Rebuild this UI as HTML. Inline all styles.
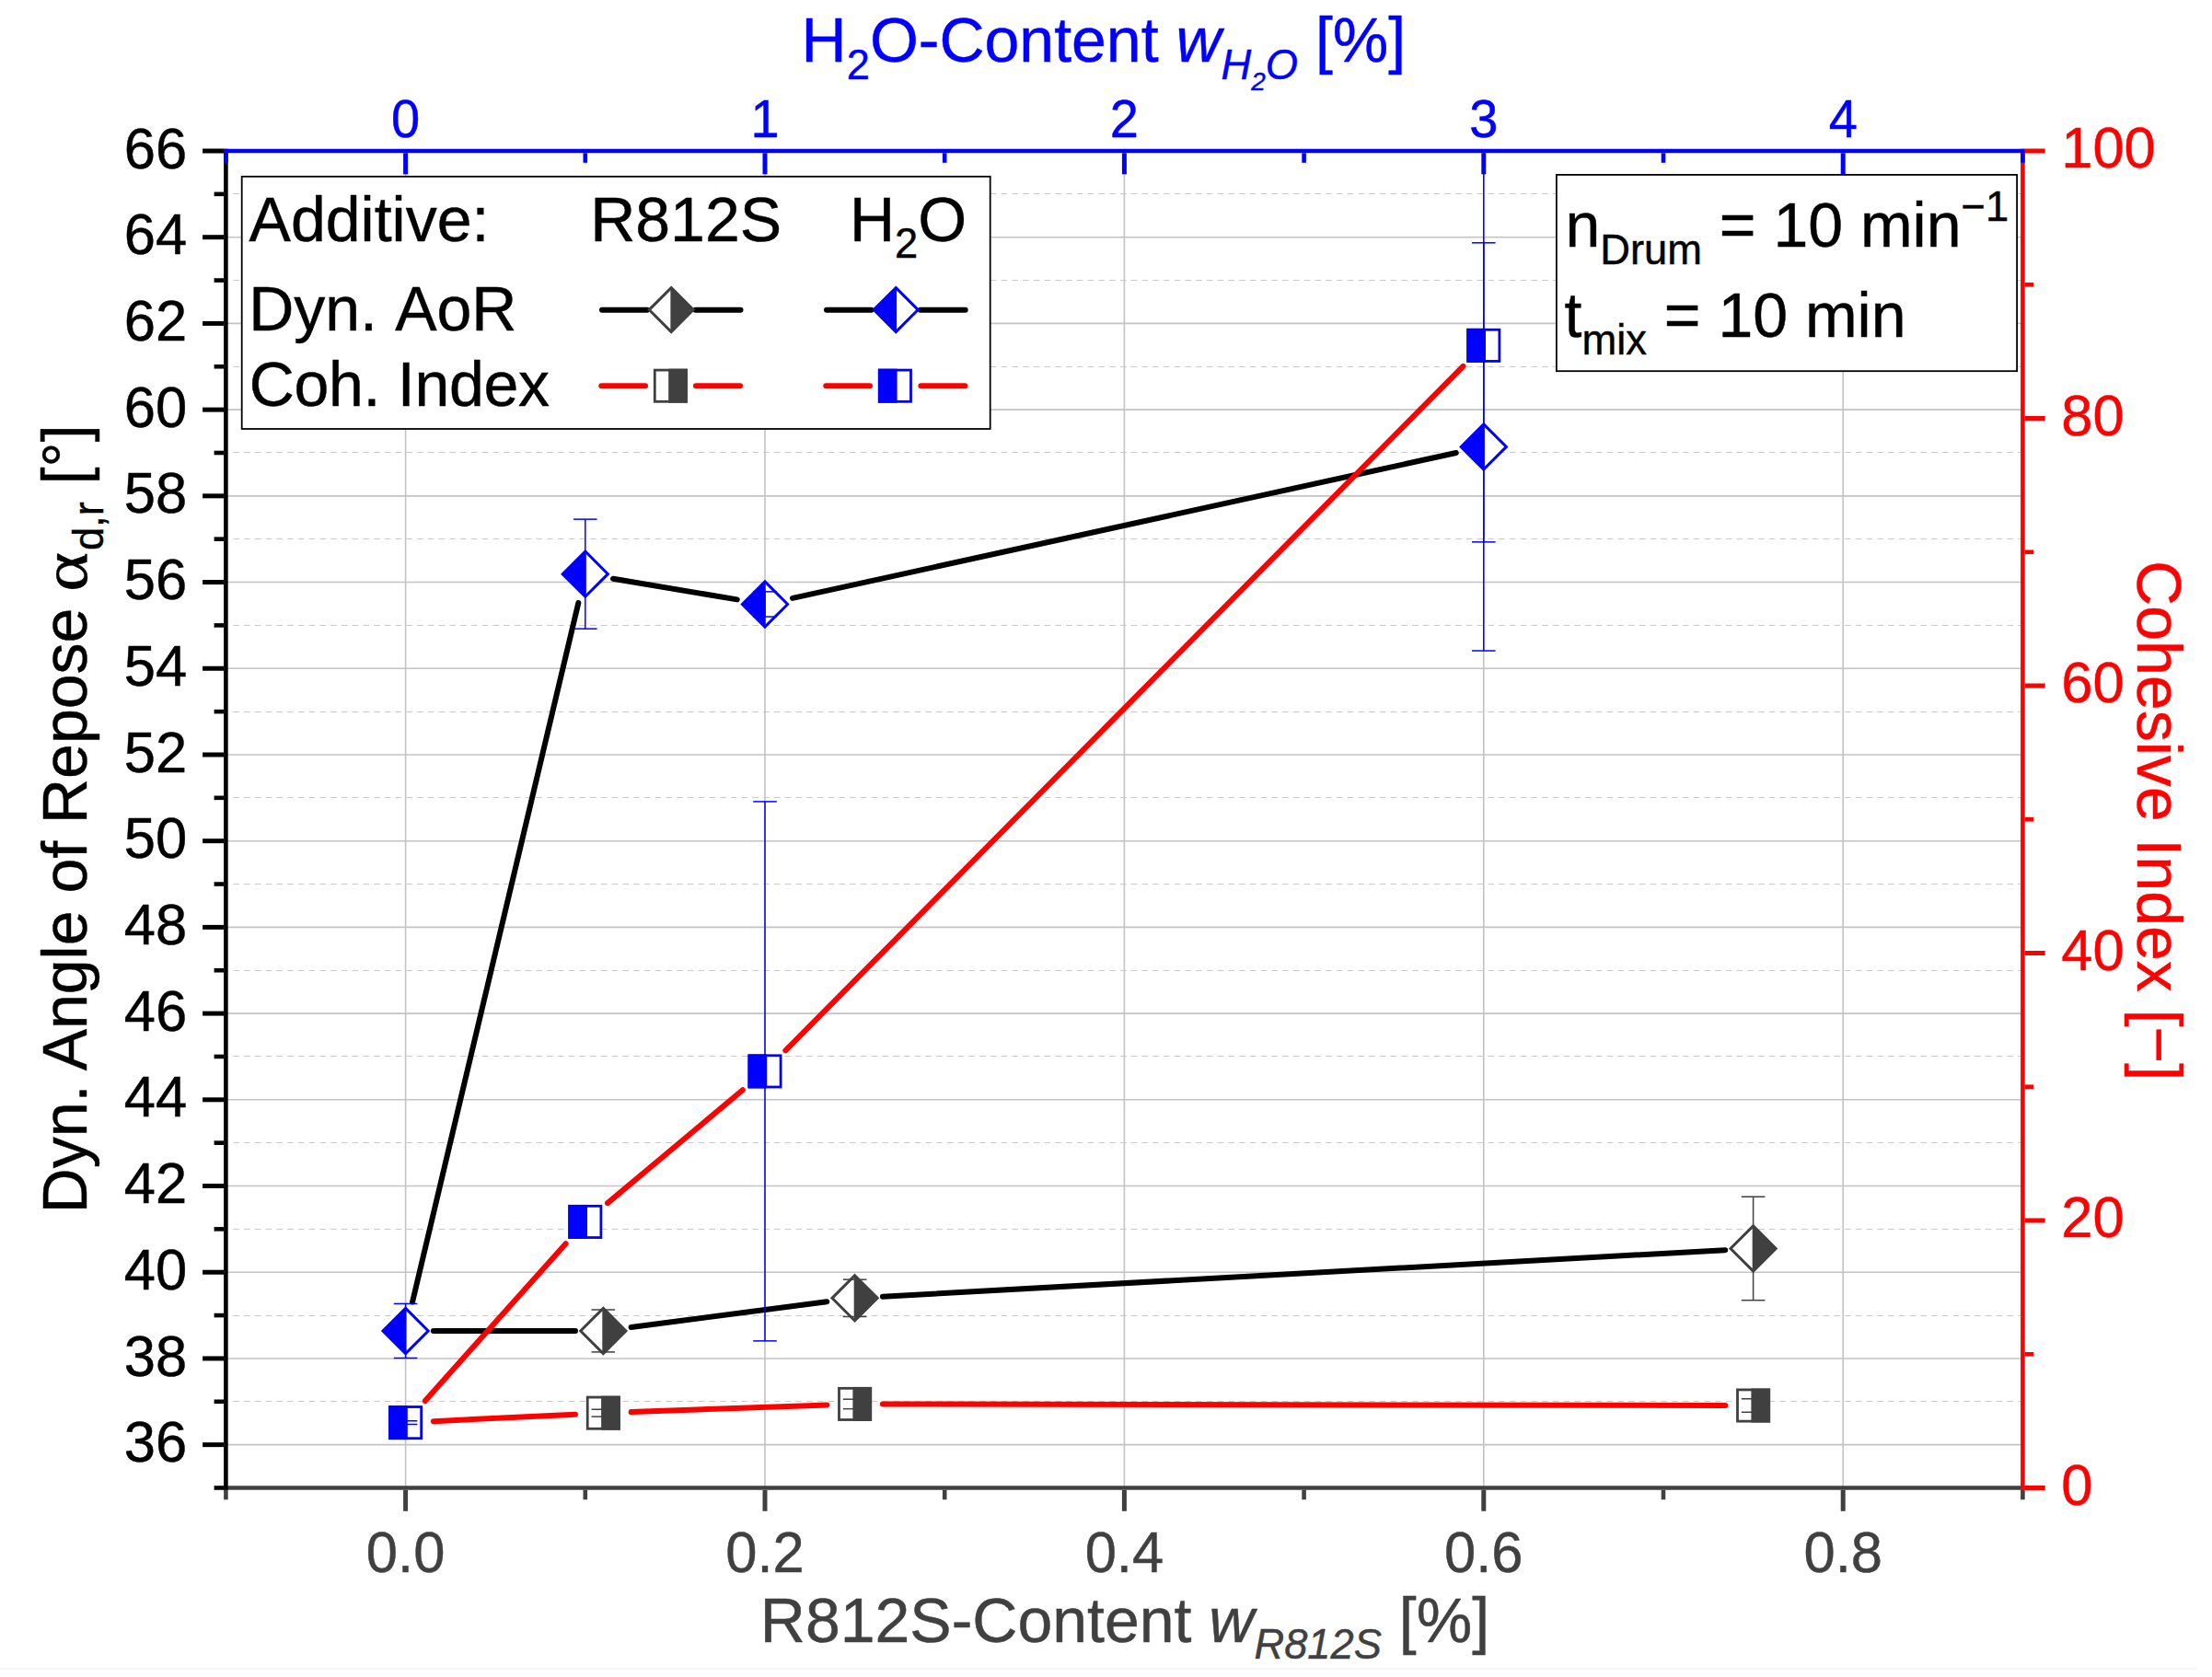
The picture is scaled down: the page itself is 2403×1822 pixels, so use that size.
<!DOCTYPE html>
<html lang="en"><head><meta charset="utf-8"><title>Dyn. Angle of Repose and Cohesive Index vs additive content</title>
<style>html,body{margin:0;padding:0;background:#fff;}body{width:2403px;height:1822px;overflow:hidden;}svg{display:block;}text{white-space:pre;stroke-width:0.45px;}</style>
</head><body>
<svg width="2403" height="1822" viewBox="0 0 2403 1822">
<rect x="0" y="0" width="2403" height="1822" fill="#ffffff"/>
<g id="grid">
<line x1="245.4" y1="1569.65" x2="2197.4" y2="1569.65" stroke="#c3c3c3" stroke-width="1.6" />
<line x1="245.4" y1="1475.94" x2="2197.4" y2="1475.94" stroke="#c3c3c3" stroke-width="1.6" />
<line x1="245.4" y1="1382.23" x2="2197.4" y2="1382.23" stroke="#c3c3c3" stroke-width="1.6" />
<line x1="245.4" y1="1288.52" x2="2197.4" y2="1288.52" stroke="#c3c3c3" stroke-width="1.6" />
<line x1="245.4" y1="1194.81" x2="2197.4" y2="1194.81" stroke="#c3c3c3" stroke-width="1.6" />
<line x1="245.4" y1="1101.1" x2="2197.4" y2="1101.1" stroke="#c3c3c3" stroke-width="1.6" />
<line x1="245.4" y1="1007.39" x2="2197.4" y2="1007.39" stroke="#c3c3c3" stroke-width="1.6" />
<line x1="245.4" y1="913.68" x2="2197.4" y2="913.68" stroke="#c3c3c3" stroke-width="1.6" />
<line x1="245.4" y1="819.97" x2="2197.4" y2="819.97" stroke="#c3c3c3" stroke-width="1.6" />
<line x1="245.4" y1="726.26" x2="2197.4" y2="726.26" stroke="#c3c3c3" stroke-width="1.6" />
<line x1="245.4" y1="632.55" x2="2197.4" y2="632.55" stroke="#c3c3c3" stroke-width="1.6" />
<line x1="245.4" y1="538.84" x2="2197.4" y2="538.84" stroke="#c3c3c3" stroke-width="1.6" />
<line x1="245.4" y1="445.13" x2="2197.4" y2="445.13" stroke="#c3c3c3" stroke-width="1.6" />
<line x1="245.4" y1="351.42" x2="2197.4" y2="351.42" stroke="#c3c3c3" stroke-width="1.6" />
<line x1="245.4" y1="257.71" x2="2197.4" y2="257.71" stroke="#c3c3c3" stroke-width="1.6" />
<line x1="253.4" y1="1522.5" x2="2197.4" y2="1522.5" stroke="#c9c9c9" stroke-width="1.0" stroke-dasharray="6.6 5.15"/>
<line x1="253.4" y1="1429.5" x2="2197.4" y2="1429.5" stroke="#c9c9c9" stroke-width="1.0" stroke-dasharray="6.6 5.15"/>
<line x1="253.4" y1="1335.5" x2="2197.4" y2="1335.5" stroke="#c9c9c9" stroke-width="1.0" stroke-dasharray="6.6 5.15"/>
<line x1="253.4" y1="1241.5" x2="2197.4" y2="1241.5" stroke="#c9c9c9" stroke-width="1.0" stroke-dasharray="6.6 5.15"/>
<line x1="253.4" y1="1147.5" x2="2197.4" y2="1147.5" stroke="#c9c9c9" stroke-width="1.0" stroke-dasharray="6.6 5.15"/>
<line x1="253.4" y1="1054.5" x2="2197.4" y2="1054.5" stroke="#c9c9c9" stroke-width="1.0" stroke-dasharray="6.6 5.15"/>
<line x1="253.4" y1="960.5" x2="2197.4" y2="960.5" stroke="#c9c9c9" stroke-width="1.0" stroke-dasharray="6.6 5.15"/>
<line x1="253.4" y1="866.5" x2="2197.4" y2="866.5" stroke="#c9c9c9" stroke-width="1.0" stroke-dasharray="6.6 5.15"/>
<line x1="253.4" y1="773.5" x2="2197.4" y2="773.5" stroke="#c9c9c9" stroke-width="1.0" stroke-dasharray="6.6 5.15"/>
<line x1="253.4" y1="679.5" x2="2197.4" y2="679.5" stroke="#c9c9c9" stroke-width="1.0" stroke-dasharray="6.6 5.15"/>
<line x1="253.4" y1="585.5" x2="2197.4" y2="585.5" stroke="#c9c9c9" stroke-width="1.0" stroke-dasharray="6.6 5.15"/>
<line x1="253.4" y1="491.5" x2="2197.4" y2="491.5" stroke="#c9c9c9" stroke-width="1.0" stroke-dasharray="6.6 5.15"/>
<line x1="253.4" y1="398.5" x2="2197.4" y2="398.5" stroke="#c9c9c9" stroke-width="1.0" stroke-dasharray="6.6 5.15"/>
<line x1="253.4" y1="304.5" x2="2197.4" y2="304.5" stroke="#c9c9c9" stroke-width="1.0" stroke-dasharray="6.6 5.15"/>
<line x1="253.4" y1="210.5" x2="2197.4" y2="210.5" stroke="#c9c9c9" stroke-width="1.0" stroke-dasharray="6.6 5.15"/>
<line x1="440.6" y1="164" x2="440.6" y2="1616.5" stroke="#c3c3c3" stroke-width="1.6" />
<line x1="831" y1="164" x2="831" y2="1616.5" stroke="#c3c3c3" stroke-width="1.6" />
<line x1="1221.4" y1="164" x2="1221.4" y2="1616.5" stroke="#c3c3c3" stroke-width="1.6" />
<line x1="1611.8" y1="164" x2="1611.8" y2="1616.5" stroke="#c3c3c3" stroke-width="1.6" />
<line x1="2002.2" y1="164" x2="2002.2" y2="1616.5" stroke="#c3c3c3" stroke-width="1.6" />
</g>
<g id="data">
<line x1="470.9" y1="1445.95" x2="625.02" y2="1445.95" stroke="#000000" stroke-width="6.0" stroke-linecap="round"/>
<line x1="685.62" y1="1442" x2="898.3" y2="1414.29" stroke="#000000" stroke-width="6.0" stroke-linecap="round"/>
<line x1="958.96" y1="1408.66" x2="1874.24" y2="1358.13" stroke="#000000" stroke-width="6.0" stroke-linecap="round"/>
<polygon points="655.32,1421.35 679.92,1445.95 655.32,1470.55 630.72,1445.95" fill="#fff"/>
<polygon points="654.52,1421.35 679.92,1445.95 654.52,1470.55" fill="#404040"/>
<polygon points="655.32,1421.35 679.92,1445.95 655.32,1470.55 630.72,1445.95" fill="none" stroke="#404040" stroke-width="3.0" stroke-linejoin="miter"/>
<line x1="655.32" y1="1422.99" x2="655.32" y2="1468.91" stroke="#404040" stroke-width="1.5" />
<line x1="642.52" y1="1422.99" x2="668.12" y2="1422.99" stroke="#404040" stroke-width="1.5" />
<line x1="642.52" y1="1468.91" x2="668.12" y2="1468.91" stroke="#404040" stroke-width="1.5" />
<polygon points="928.6,1385.74 953.2,1410.34 928.6,1434.94 904,1410.34" fill="#fff"/>
<polygon points="927.8,1385.74 953.2,1410.34 927.8,1434.94" fill="#404040"/>
<polygon points="928.6,1385.74 953.2,1410.34 928.6,1434.94 904,1410.34" fill="none" stroke="#404040" stroke-width="3.0" stroke-linejoin="miter"/>
<line x1="928.6" y1="1390.19" x2="928.6" y2="1430.49" stroke="#404040" stroke-width="1.5" />
<line x1="915.8" y1="1390.19" x2="941.4" y2="1390.19" stroke="#404040" stroke-width="1.5" />
<line x1="915.8" y1="1430.49" x2="941.4" y2="1430.49" stroke="#404040" stroke-width="1.5" />
<polygon points="1904.6,1331.86 1929.2,1356.46 1904.6,1381.06 1880,1356.46" fill="#fff"/>
<polygon points="1903.8,1331.86 1929.2,1356.46 1903.8,1381.06" fill="#404040"/>
<polygon points="1904.6,1331.86 1929.2,1356.46 1904.6,1381.06 1880,1356.46" fill="none" stroke="#404040" stroke-width="3.0" stroke-linejoin="miter"/>
<line x1="1904.6" y1="1300.23" x2="1904.6" y2="1412.68" stroke="#404040" stroke-width="1.5" />
<line x1="1891.8" y1="1300.23" x2="1917.4" y2="1300.23" stroke="#404040" stroke-width="1.5" />
<line x1="1891.8" y1="1412.68" x2="1917.4" y2="1412.68" stroke="#404040" stroke-width="1.5" />
<line x1="470.96" y1="1544.14" x2="624.96" y2="1536.64" stroke="#ff0000" stroke-width="6.0" stroke-linecap="round"/>
<line x1="685.67" y1="1534.08" x2="898.25" y2="1526.51" stroke="#ff0000" stroke-width="6.0" stroke-linecap="round"/>
<line x1="958.9" y1="1525.48" x2="1874.3" y2="1526.98" stroke="#ff0000" stroke-width="6.0" stroke-linecap="round"/>
<rect x="638.22" y="1518.06" width="34.2" height="34.2" fill="#fff" stroke="#404040" stroke-width="2.8"/>
<rect x="654.52" y="1518.06" width="17.9" height="34.2" fill="#404040" stroke="#404040" stroke-width="2.8"/>
<line x1="655.32" y1="1531.24" x2="655.32" y2="1539.08" stroke="#404040" stroke-width="1.5" />
<line x1="642.52" y1="1531.24" x2="668.12" y2="1531.24" stroke="#404040" stroke-width="1.5" />
<line x1="642.52" y1="1539.08" x2="668.12" y2="1539.08" stroke="#404040" stroke-width="1.5" />
<rect x="911.5" y="1508.33" width="34.2" height="34.2" fill="#fff" stroke="#404040" stroke-width="2.8"/>
<rect x="927.8" y="1508.33" width="17.9" height="34.2" fill="#404040" stroke="#404040" stroke-width="2.8"/>
<line x1="928.6" y1="1520.2" x2="928.6" y2="1530.66" stroke="#404040" stroke-width="1.5" />
<line x1="915.8" y1="1520.2" x2="941.4" y2="1520.2" stroke="#404040" stroke-width="1.5" />
<line x1="915.8" y1="1530.66" x2="941.4" y2="1530.66" stroke="#404040" stroke-width="1.5" />
<rect x="1887.5" y="1509.93" width="34.2" height="34.2" fill="#fff" stroke="#404040" stroke-width="2.8"/>
<rect x="1903.8" y="1509.93" width="17.9" height="34.2" fill="#404040" stroke="#404040" stroke-width="2.8"/>
<line x1="1904.6" y1="1519.76" x2="1904.6" y2="1534.29" stroke="#404040" stroke-width="1.5" />
<line x1="1891.8" y1="1519.76" x2="1917.4" y2="1519.76" stroke="#404040" stroke-width="1.5" />
<line x1="1891.8" y1="1534.29" x2="1917.4" y2="1534.29" stroke="#404040" stroke-width="1.5" />
<line x1="448.05" y1="1414.57" x2="628.35" y2="655.02" stroke="#000000" stroke-width="6.0" stroke-linecap="round"/>
<line x1="666.01" y1="628.72" x2="800.79" y2="651.37" stroke="#000000" stroke-width="6.0" stroke-linecap="round"/>
<line x1="861.02" y1="649.87" x2="1581.78" y2="492" stroke="#000000" stroke-width="6.0" stroke-linecap="round"/>
<polygon points="440.6,1421.35 465.2,1445.95 440.6,1470.55 416,1445.95" fill="#fff"/>
<polygon points="441.4,1421.35 416,1445.95 441.4,1470.55" fill="#0000ff"/>
<polygon points="440.6,1421.35 465.2,1445.95 440.6,1470.55 416,1445.95" fill="none" stroke="#0000ff" stroke-width="3.0" stroke-linejoin="miter"/>
<line x1="440.6" y1="1416.43" x2="440.6" y2="1475.47" stroke="#0000ff" stroke-width="1.5" />
<line x1="427.8" y1="1416.43" x2="453.4" y2="1416.43" stroke="#0000ff" stroke-width="1.5" />
<line x1="427.8" y1="1475.47" x2="453.4" y2="1475.47" stroke="#0000ff" stroke-width="1.5" />
<polygon points="635.8,599.05 660.4,623.65 635.8,648.25 611.2,623.65" fill="#fff"/>
<polygon points="636.6,599.05 611.2,623.65 636.6,648.25" fill="#0000ff"/>
<polygon points="635.8,599.05 660.4,623.65 635.8,648.25 611.2,623.65" fill="none" stroke="#0000ff" stroke-width="3.0" stroke-linejoin="miter"/>
<line x1="635.8" y1="564.14" x2="635.8" y2="683.15" stroke="#0000ff" stroke-width="1.5" />
<line x1="623" y1="564.14" x2="648.6" y2="564.14" stroke="#0000ff" stroke-width="1.5" />
<line x1="623" y1="683.15" x2="648.6" y2="683.15" stroke="#0000ff" stroke-width="1.5" />
<polygon points="831,631.84 855.6,656.44 831,681.04 806.4,656.44" fill="#fff"/>
<polygon points="831.8,631.84 806.4,656.44 831.8,681.04" fill="#0000ff"/>
<polygon points="831,631.84 855.6,656.44 831,681.04 806.4,656.44" fill="none" stroke="#0000ff" stroke-width="3.0" stroke-linejoin="miter"/>
<line x1="831" y1="642.86" x2="831" y2="670.03" stroke="#0000ff" stroke-width="1.5" />
<line x1="818.2" y1="642.86" x2="843.8" y2="642.86" stroke="#0000ff" stroke-width="1.5" />
<line x1="818.2" y1="670.03" x2="843.8" y2="670.03" stroke="#0000ff" stroke-width="1.5" />
<polygon points="1611.8,460.82 1636.4,485.42 1611.8,510.02 1587.2,485.42" fill="#fff"/>
<polygon points="1612.6,460.82 1587.2,485.42 1612.6,510.02" fill="#0000ff"/>
<polygon points="1611.8,460.82 1636.4,485.42 1611.8,510.02 1587.2,485.42" fill="none" stroke="#0000ff" stroke-width="3.0" stroke-linejoin="miter"/>
<line x1="1611.8" y1="263.8" x2="1611.8" y2="707.05" stroke="#0000ff" stroke-width="1.5" />
<line x1="1599" y1="263.8" x2="1624.6" y2="263.8" stroke="#0000ff" stroke-width="1.5" />
<line x1="1599" y1="707.05" x2="1624.6" y2="707.05" stroke="#0000ff" stroke-width="1.5" />
<line x1="461.8" y1="1521.93" x2="614.6" y2="1351.14" stroke="#ff0000" stroke-width="6.0" stroke-linecap="round"/>
<line x1="660.01" y1="1307.17" x2="806.79" y2="1184.19" stroke="#ff0000" stroke-width="6.0" stroke-linecap="round"/>
<line x1="853.32" y1="1141.36" x2="1589.48" y2="397.88" stroke="#ff0000" stroke-width="6.0" stroke-linecap="round"/>
<line x1="440.6" y1="1543.73" x2="440.6" y2="1547.51" stroke="#0000ff" stroke-width="1.5" />
<line x1="427.8" y1="1543.73" x2="453.4" y2="1543.73" stroke="#0000ff" stroke-width="1.5" />
<line x1="427.8" y1="1547.51" x2="453.4" y2="1547.51" stroke="#0000ff" stroke-width="1.5" />
<line x1="831" y1="870.93" x2="831" y2="1456.87" stroke="#0000ff" stroke-width="1.5" />
<line x1="818.2" y1="870.93" x2="843.8" y2="870.93" stroke="#0000ff" stroke-width="1.5" />
<line x1="818.2" y1="1456.87" x2="843.8" y2="1456.87" stroke="#0000ff" stroke-width="1.5" />
<line x1="1611.8" y1="164" x2="1611.8" y2="588.86" stroke="#0000ff" stroke-width="1.5" />
<line x1="1599" y1="588.86" x2="1624.6" y2="588.86" stroke="#0000ff" stroke-width="1.5" />
<rect x="423.5" y="1528.52" width="34.2" height="34.2" fill="#fff" stroke="#0000ff" stroke-width="2.8"/>
<rect x="423.5" y="1528.52" width="17.9" height="34.2" fill="#0000ff" stroke="#0000ff" stroke-width="2.8"/>
<line x1="440.6" y1="1543.73" x2="440.6" y2="1547.51" stroke="#0000ff" stroke-width="1.5" />
<line x1="427.8" y1="1543.73" x2="453.4" y2="1543.73" stroke="#0000ff" stroke-width="1.5" />
<line x1="427.8" y1="1547.51" x2="453.4" y2="1547.51" stroke="#0000ff" stroke-width="1.5" />
<rect x="618.7" y="1310.35" width="34.2" height="34.2" fill="#fff" stroke="#0000ff" stroke-width="2.8"/>
<rect x="618.7" y="1310.35" width="17.9" height="34.2" fill="#0000ff" stroke="#0000ff" stroke-width="2.8"/>
<rect x="813.9" y="1146.8" width="34.2" height="34.2" fill="#fff" stroke="#0000ff" stroke-width="2.8"/>
<rect x="813.9" y="1146.8" width="17.9" height="34.2" fill="#0000ff" stroke="#0000ff" stroke-width="2.8"/>
<rect x="1594.7" y="358.24" width="34.2" height="34.2" fill="#fff" stroke="#0000ff" stroke-width="2.8"/>
<rect x="1594.7" y="358.24" width="17.9" height="34.2" fill="#0000ff" stroke="#0000ff" stroke-width="2.8"/>
</g>
<g id="legend">
<rect x="262.7" y="191.8" width="813" height="274.2" fill="#fff" stroke="#000" stroke-width="1.8"/>
<rect x="1690.9" y="189.9" width="500.2" height="213.3" fill="#fff" stroke="#000" stroke-width="1.8"/>
<text transform="translate(270.6,262.4) scale(1,1.02)" font-family="Liberation Sans, sans-serif" font-size="68" fill="#000" stroke="#000" text-anchor="start" >Additive:</text>
<text transform="translate(641.2,262.4) scale(1,1.02)" font-family="Liberation Sans, sans-serif" font-size="68" fill="#000" stroke="#000" text-anchor="start" >R812S</text>
<text transform="translate(922.9,262.4) scale(1,1.02)" font-family="Liberation Sans, sans-serif" font-size="68" fill="#000" stroke="#000" text-anchor="start" >H<tspan font-size="45.3" dy="17.5">2</tspan><tspan dy="-17.5">O</tspan></text>
<text transform="translate(270.2,359.2) scale(1,1.02)" font-family="Liberation Sans, sans-serif" font-size="68" fill="#000" stroke="#000" text-anchor="start" word-spacing="4">Dyn. AoR</text>
<text transform="translate(270.8,440.8) scale(1,1.02)" font-family="Liberation Sans, sans-serif" font-size="68" fill="#000" stroke="#000" text-anchor="start" letter-spacing="-0.3">Coh. Index</text>
<line x1="654" y1="336.7" x2="703" y2="336.7" stroke="#000000" stroke-width="6.0" stroke-linecap="round"/>
<line x1="755.5" y1="336.7" x2="804.5" y2="336.7" stroke="#000000" stroke-width="6.0" stroke-linecap="round"/>
<polygon points="729.2,312.6 753.2,336.6 729.2,360.6 705.2,336.6" fill="#fff"/>
<polygon points="728.4,312.6 753.2,336.6 728.4,360.6" fill="#404040"/>
<polygon points="729.2,312.6 753.2,336.6 729.2,360.6 705.2,336.6" fill="none" stroke="#404040" stroke-width="3.0" stroke-linejoin="miter"/>
<line x1="898" y1="336.7" x2="946.5" y2="336.7" stroke="#000000" stroke-width="6.0" stroke-linecap="round"/>
<line x1="999.8" y1="336.7" x2="1048.7" y2="336.7" stroke="#000000" stroke-width="6.0" stroke-linecap="round"/>
<polygon points="973.3,312.6 997.3,336.6 973.3,360.6 949.3,336.6" fill="#fff"/>
<polygon points="974.1,312.6 949.3,336.6 974.1,360.6" fill="#0000ff"/>
<polygon points="973.3,312.6 997.3,336.6 973.3,360.6 949.3,336.6" fill="none" stroke="#0000ff" stroke-width="3.0" stroke-linejoin="miter"/>
<line x1="653.3" y1="419.3" x2="701" y2="419.3" stroke="#ff0000" stroke-width="6.0" stroke-linecap="round"/>
<line x1="756" y1="419.3" x2="804" y2="419.3" stroke="#ff0000" stroke-width="6.0" stroke-linecap="round"/>
<rect x="711.3" y="402.1" width="34.2" height="34.2" fill="#fff" stroke="#404040" stroke-width="2.8"/>
<rect x="727.6" y="402.1" width="17.9" height="34.2" fill="#404040" stroke="#404040" stroke-width="2.8"/>
<line x1="897.3" y1="419.3" x2="945" y2="419.3" stroke="#ff0000" stroke-width="6.0" stroke-linecap="round"/>
<line x1="1000.4" y1="419.3" x2="1048.3" y2="419.3" stroke="#ff0000" stroke-width="6.0" stroke-linecap="round"/>
<rect x="955.3" y="402.1" width="34.2" height="34.2" fill="#fff" stroke="#0000ff" stroke-width="2.8"/>
<rect x="955.3" y="402.1" width="17.9" height="34.2" fill="#0000ff" stroke="#0000ff" stroke-width="2.8"/>
<text transform="translate(1700.4,268.3) scale(1,1.02)" font-family="Liberation Sans, sans-serif" font-size="68" fill="#000" stroke="#000" text-anchor="start" >n<tspan font-size="45.3" dy="18">Drum</tspan><tspan dy="-18"> = 10 min</tspan><tspan font-size="45.3" dy="-27.8">−1</tspan></text>
<text transform="translate(1699.6,366.3) scale(1,1.02)" font-family="Liberation Sans, sans-serif" font-size="68" fill="#000" stroke="#000" text-anchor="start" >t<tspan font-size="45.3" dy="18.2">mix</tspan><tspan dy="-18.2"> = 10 min</tspan></text>
</g>
<g id="axes">
<line x1="243.1" y1="1616.5" x2="2199.7" y2="1616.5" stroke="#404040" stroke-width="4.6" />
<line x1="440.6" y1="1618.8" x2="440.6" y2="1641.8" stroke="#404040" stroke-width="5.0" />
<line x1="831" y1="1618.8" x2="831" y2="1641.8" stroke="#404040" stroke-width="5.0" />
<line x1="1221.4" y1="1618.8" x2="1221.4" y2="1641.8" stroke="#404040" stroke-width="5.0" />
<line x1="1611.8" y1="1618.8" x2="1611.8" y2="1641.8" stroke="#404040" stroke-width="5.0" />
<line x1="2002.2" y1="1618.8" x2="2002.2" y2="1641.8" stroke="#404040" stroke-width="5.0" />
<line x1="245.4" y1="1618.8" x2="245.4" y2="1629.3" stroke="#404040" stroke-width="4.6" />
<line x1="635.8" y1="1618.8" x2="635.8" y2="1629.3" stroke="#404040" stroke-width="4.6" />
<line x1="1026.2" y1="1618.8" x2="1026.2" y2="1629.3" stroke="#404040" stroke-width="4.6" />
<line x1="1416.6" y1="1618.8" x2="1416.6" y2="1629.3" stroke="#404040" stroke-width="4.6" />
<line x1="1807" y1="1618.8" x2="1807" y2="1629.3" stroke="#404040" stroke-width="4.6" />
<line x1="2197.4" y1="1618.8" x2="2197.4" y2="1629.3" stroke="#404040" stroke-width="4.6" />
<line x1="245.4" y1="161.7" x2="245.4" y2="1618.8" stroke="#000000" stroke-width="4.6" />
<line x1="220.1" y1="1569.65" x2="243.1" y2="1569.65" stroke="#000000" stroke-width="5.0" />
<line x1="220.1" y1="1475.94" x2="243.1" y2="1475.94" stroke="#000000" stroke-width="5.0" />
<line x1="220.1" y1="1382.23" x2="243.1" y2="1382.23" stroke="#000000" stroke-width="5.0" />
<line x1="220.1" y1="1288.52" x2="243.1" y2="1288.52" stroke="#000000" stroke-width="5.0" />
<line x1="220.1" y1="1194.81" x2="243.1" y2="1194.81" stroke="#000000" stroke-width="5.0" />
<line x1="220.1" y1="1101.1" x2="243.1" y2="1101.1" stroke="#000000" stroke-width="5.0" />
<line x1="220.1" y1="1007.39" x2="243.1" y2="1007.39" stroke="#000000" stroke-width="5.0" />
<line x1="220.1" y1="913.68" x2="243.1" y2="913.68" stroke="#000000" stroke-width="5.0" />
<line x1="220.1" y1="819.97" x2="243.1" y2="819.97" stroke="#000000" stroke-width="5.0" />
<line x1="220.1" y1="726.26" x2="243.1" y2="726.26" stroke="#000000" stroke-width="5.0" />
<line x1="220.1" y1="632.55" x2="243.1" y2="632.55" stroke="#000000" stroke-width="5.0" />
<line x1="220.1" y1="538.84" x2="243.1" y2="538.84" stroke="#000000" stroke-width="5.0" />
<line x1="220.1" y1="445.13" x2="243.1" y2="445.13" stroke="#000000" stroke-width="5.0" />
<line x1="220.1" y1="351.42" x2="243.1" y2="351.42" stroke="#000000" stroke-width="5.0" />
<line x1="220.1" y1="257.71" x2="243.1" y2="257.71" stroke="#000000" stroke-width="5.0" />
<line x1="220.1" y1="164" x2="243.1" y2="164" stroke="#000000" stroke-width="5.0" />
<line x1="232.6" y1="1616.5" x2="243.1" y2="1616.5" stroke="#000000" stroke-width="4.6" />
<line x1="232.6" y1="1522.79" x2="243.1" y2="1522.79" stroke="#000000" stroke-width="4.6" />
<line x1="232.6" y1="1429.08" x2="243.1" y2="1429.08" stroke="#000000" stroke-width="4.6" />
<line x1="232.6" y1="1335.37" x2="243.1" y2="1335.37" stroke="#000000" stroke-width="4.6" />
<line x1="232.6" y1="1241.66" x2="243.1" y2="1241.66" stroke="#000000" stroke-width="4.6" />
<line x1="232.6" y1="1147.95" x2="243.1" y2="1147.95" stroke="#000000" stroke-width="4.6" />
<line x1="232.6" y1="1054.24" x2="243.1" y2="1054.24" stroke="#000000" stroke-width="4.6" />
<line x1="232.6" y1="960.53" x2="243.1" y2="960.53" stroke="#000000" stroke-width="4.6" />
<line x1="232.6" y1="866.82" x2="243.1" y2="866.82" stroke="#000000" stroke-width="4.6" />
<line x1="232.6" y1="773.11" x2="243.1" y2="773.11" stroke="#000000" stroke-width="4.6" />
<line x1="232.6" y1="679.4" x2="243.1" y2="679.4" stroke="#000000" stroke-width="4.6" />
<line x1="232.6" y1="585.69" x2="243.1" y2="585.69" stroke="#000000" stroke-width="4.6" />
<line x1="232.6" y1="491.98" x2="243.1" y2="491.98" stroke="#000000" stroke-width="4.6" />
<line x1="232.6" y1="398.27" x2="243.1" y2="398.27" stroke="#000000" stroke-width="4.6" />
<line x1="232.6" y1="304.56" x2="243.1" y2="304.56" stroke="#000000" stroke-width="4.6" />
<line x1="232.6" y1="210.85" x2="243.1" y2="210.85" stroke="#000000" stroke-width="4.6" />
<line x1="2197.4" y1="161.7" x2="2197.4" y2="1618.8" stroke="#ff0000" stroke-width="4.6" />
<line x1="2199.7" y1="1616.5" x2="2221.7" y2="1616.5" stroke="#ff0000" stroke-width="5.0" />
<line x1="2199.7" y1="1326" x2="2221.7" y2="1326" stroke="#ff0000" stroke-width="5.0" />
<line x1="2199.7" y1="1035.5" x2="2221.7" y2="1035.5" stroke="#ff0000" stroke-width="5.0" />
<line x1="2199.7" y1="745" x2="2221.7" y2="745" stroke="#ff0000" stroke-width="5.0" />
<line x1="2199.7" y1="454.5" x2="2221.7" y2="454.5" stroke="#ff0000" stroke-width="5.0" />
<line x1="2199.7" y1="164" x2="2221.7" y2="164" stroke="#ff0000" stroke-width="5.0" />
<line x1="2199.7" y1="1471.25" x2="2209.2" y2="1471.25" stroke="#ff0000" stroke-width="4.6" />
<line x1="2199.7" y1="1180.75" x2="2209.2" y2="1180.75" stroke="#ff0000" stroke-width="4.6" />
<line x1="2199.7" y1="890.25" x2="2209.2" y2="890.25" stroke="#ff0000" stroke-width="4.6" />
<line x1="2199.7" y1="599.75" x2="2209.2" y2="599.75" stroke="#ff0000" stroke-width="4.6" />
<line x1="2199.7" y1="309.25" x2="2209.2" y2="309.25" stroke="#ff0000" stroke-width="4.6" />
<line x1="243.1" y1="164" x2="2199.7" y2="164" stroke="#0000ff" stroke-width="4.6" />
<line x1="440.6" y1="166.3" x2="440.6" y2="189.3" stroke="#0000ff" stroke-width="5.0" />
<line x1="831" y1="166.3" x2="831" y2="189.3" stroke="#0000ff" stroke-width="5.0" />
<line x1="1221.4" y1="166.3" x2="1221.4" y2="189.3" stroke="#0000ff" stroke-width="5.0" />
<line x1="1611.8" y1="166.3" x2="1611.8" y2="189.3" stroke="#0000ff" stroke-width="5.0" />
<line x1="2002.2" y1="166.3" x2="2002.2" y2="189.3" stroke="#0000ff" stroke-width="5.0" />
<line x1="245.4" y1="166.3" x2="245.4" y2="176.8" stroke="#0000ff" stroke-width="4.6" />
<line x1="635.8" y1="166.3" x2="635.8" y2="176.8" stroke="#0000ff" stroke-width="4.6" />
<line x1="1026.2" y1="166.3" x2="1026.2" y2="176.8" stroke="#0000ff" stroke-width="4.6" />
<line x1="1416.6" y1="166.3" x2="1416.6" y2="176.8" stroke="#0000ff" stroke-width="4.6" />
<line x1="1807" y1="166.3" x2="1807" y2="176.8" stroke="#0000ff" stroke-width="4.6" />
<line x1="2197.4" y1="166.3" x2="2197.4" y2="176.8" stroke="#0000ff" stroke-width="4.6" />
</g>
<g id="ticklabels">
<text transform="translate(203.2,1588.25) scale(1,1.03)" font-family="Liberation Sans, sans-serif" font-size="61.5" fill="#000" stroke="#000" text-anchor="end" >36</text>
<text transform="translate(203.2,1494.54) scale(1,1.03)" font-family="Liberation Sans, sans-serif" font-size="61.5" fill="#000" stroke="#000" text-anchor="end" >38</text>
<text transform="translate(203.2,1400.83) scale(1,1.03)" font-family="Liberation Sans, sans-serif" font-size="61.5" fill="#000" stroke="#000" text-anchor="end" >40</text>
<text transform="translate(203.2,1307.12) scale(1,1.03)" font-family="Liberation Sans, sans-serif" font-size="61.5" fill="#000" stroke="#000" text-anchor="end" >42</text>
<text transform="translate(203.2,1213.41) scale(1,1.03)" font-family="Liberation Sans, sans-serif" font-size="61.5" fill="#000" stroke="#000" text-anchor="end" >44</text>
<text transform="translate(203.2,1119.7) scale(1,1.03)" font-family="Liberation Sans, sans-serif" font-size="61.5" fill="#000" stroke="#000" text-anchor="end" >46</text>
<text transform="translate(203.2,1025.99) scale(1,1.03)" font-family="Liberation Sans, sans-serif" font-size="61.5" fill="#000" stroke="#000" text-anchor="end" >48</text>
<text transform="translate(203.2,932.28) scale(1,1.03)" font-family="Liberation Sans, sans-serif" font-size="61.5" fill="#000" stroke="#000" text-anchor="end" >50</text>
<text transform="translate(203.2,838.57) scale(1,1.03)" font-family="Liberation Sans, sans-serif" font-size="61.5" fill="#000" stroke="#000" text-anchor="end" >52</text>
<text transform="translate(203.2,744.86) scale(1,1.03)" font-family="Liberation Sans, sans-serif" font-size="61.5" fill="#000" stroke="#000" text-anchor="end" >54</text>
<text transform="translate(203.2,651.15) scale(1,1.03)" font-family="Liberation Sans, sans-serif" font-size="61.5" fill="#000" stroke="#000" text-anchor="end" >56</text>
<text transform="translate(203.2,557.44) scale(1,1.03)" font-family="Liberation Sans, sans-serif" font-size="61.5" fill="#000" stroke="#000" text-anchor="end" >58</text>
<text transform="translate(203.2,463.73) scale(1,1.03)" font-family="Liberation Sans, sans-serif" font-size="61.5" fill="#000" stroke="#000" text-anchor="end" >60</text>
<text transform="translate(203.2,370.02) scale(1,1.03)" font-family="Liberation Sans, sans-serif" font-size="61.5" fill="#000" stroke="#000" text-anchor="end" >62</text>
<text transform="translate(203.2,276.31) scale(1,1.03)" font-family="Liberation Sans, sans-serif" font-size="61.5" fill="#000" stroke="#000" text-anchor="end" >64</text>
<text transform="translate(203.2,182.6) scale(1,1.03)" font-family="Liberation Sans, sans-serif" font-size="61.5" fill="#000" stroke="#000" text-anchor="end" >66</text>
<text transform="translate(440.6,1707.5) scale(1,1.03)" font-family="Liberation Sans, sans-serif" font-size="61.5" fill="#404040" stroke="#404040" text-anchor="middle" >0.0</text>
<text transform="translate(831,1707.5) scale(1,1.03)" font-family="Liberation Sans, sans-serif" font-size="61.5" fill="#404040" stroke="#404040" text-anchor="middle" >0.2</text>
<text transform="translate(1221.4,1707.5) scale(1,1.03)" font-family="Liberation Sans, sans-serif" font-size="61.5" fill="#404040" stroke="#404040" text-anchor="middle" >0.4</text>
<text transform="translate(1611.8,1707.5) scale(1,1.03)" font-family="Liberation Sans, sans-serif" font-size="61.5" fill="#404040" stroke="#404040" text-anchor="middle" >0.6</text>
<text transform="translate(2002.2,1707.5) scale(1,1.03)" font-family="Liberation Sans, sans-serif" font-size="61.5" fill="#404040" stroke="#404040" text-anchor="middle" >0.8</text>
<text transform="translate(2239.2,1634.7) scale(1,1.03)" font-family="Liberation Sans, sans-serif" font-size="61.5" fill="#ff0000" stroke="#ff0000" text-anchor="start" >0</text>
<text transform="translate(2239.2,1344.2) scale(1,1.03)" font-family="Liberation Sans, sans-serif" font-size="61.5" fill="#ff0000" stroke="#ff0000" text-anchor="start" >20</text>
<text transform="translate(2239.2,1053.7) scale(1,1.03)" font-family="Liberation Sans, sans-serif" font-size="61.5" fill="#ff0000" stroke="#ff0000" text-anchor="start" >40</text>
<text transform="translate(2239.2,763.2) scale(1,1.03)" font-family="Liberation Sans, sans-serif" font-size="61.5" fill="#ff0000" stroke="#ff0000" text-anchor="start" >60</text>
<text transform="translate(2239.2,472.7) scale(1,1.03)" font-family="Liberation Sans, sans-serif" font-size="61.5" fill="#ff0000" stroke="#ff0000" text-anchor="start" >80</text>
<text transform="translate(2239.2,182.2) scale(1,1.03)" font-family="Liberation Sans, sans-serif" font-size="61.5" fill="#ff0000" stroke="#ff0000" text-anchor="start" >100</text>
<text transform="translate(440.6,148.9) scale(1,1.03)" font-family="Liberation Sans, sans-serif" font-size="56" fill="#0000ff" stroke="#0000ff" text-anchor="middle" >0</text>
<text transform="translate(831,148.9) scale(1,1.03)" font-family="Liberation Sans, sans-serif" font-size="56" fill="#0000ff" stroke="#0000ff" text-anchor="middle" >1</text>
<text transform="translate(1221.4,148.9) scale(1,1.03)" font-family="Liberation Sans, sans-serif" font-size="56" fill="#0000ff" stroke="#0000ff" text-anchor="middle" >2</text>
<text transform="translate(1611.8,148.9) scale(1,1.03)" font-family="Liberation Sans, sans-serif" font-size="56" fill="#0000ff" stroke="#0000ff" text-anchor="middle" >3</text>
<text transform="translate(2002.2,148.9) scale(1,1.03)" font-family="Liberation Sans, sans-serif" font-size="56" fill="#0000ff" stroke="#0000ff" text-anchor="middle" >4</text>
</g>
<g id="titles">
<text transform="translate(870.6,66.7) scale(1,1.02)" font-family="Liberation Sans, sans-serif" font-size="68" fill="#0000ff" stroke="#0000ff" text-anchor="start" >H<tspan font-size="45.3" dy="18.6">2</tspan><tspan dy="-18.6">O-Content </tspan><tspan font-style="italic">w</tspan><tspan font-size="45.3" font-style="italic" dy="18.6">H</tspan><tspan font-size="28" font-style="italic" dy="11.7">2</tspan><tspan font-size="45.3" font-style="italic" dy="-11.7">O</tspan><tspan dy="-18.6"> [%]</tspan></text>
<text transform="translate(825.8,1784.3) scale(1,1.02)" font-family="Liberation Sans, sans-serif" font-size="68" fill="#404040" stroke="#404040" text-anchor="start" >R812S-Content <tspan font-style="italic">w</tspan><tspan font-size="45.3" font-style="italic" dy="17.1">R812S</tspan><tspan dy="-17.1"> [%]</tspan></text>
<text transform="translate(93.5,1318.3) rotate(-90) scale(1,1.02)" font-family="Liberation Sans, sans-serif" font-size="68" fill="#000" stroke="#000">Dyn. Angle of Repose</text>
<text transform="translate(93.5,642.8) rotate(-90) scale(1.2,1.03)" font-family="Liberation Serif, serif" font-size="68" fill="#000" stroke="#000">α</text>
<text transform="translate(93.5,598.1) rotate(-90) scale(1,1.02)" font-family="Liberation Sans, sans-serif" font-size="68" fill="#000" stroke="#000"><tspan font-size="45.3" dy="17.9">d,r</tspan><tspan dy="-17.9"> [°]</tspan></text>
<text transform="translate(2321.6,609.1) rotate(90) scale(1,1.02)" font-family="Liberation Sans, sans-serif" font-size="68" fill="#ff0000" stroke="#ff0000">Cohesive Index [−]</text>
</g>
<line x1="0" y1="1813" x2="2386" y2="1813" stroke="#f3f3f3" stroke-width="1.3" />
</svg>
</body></html>
